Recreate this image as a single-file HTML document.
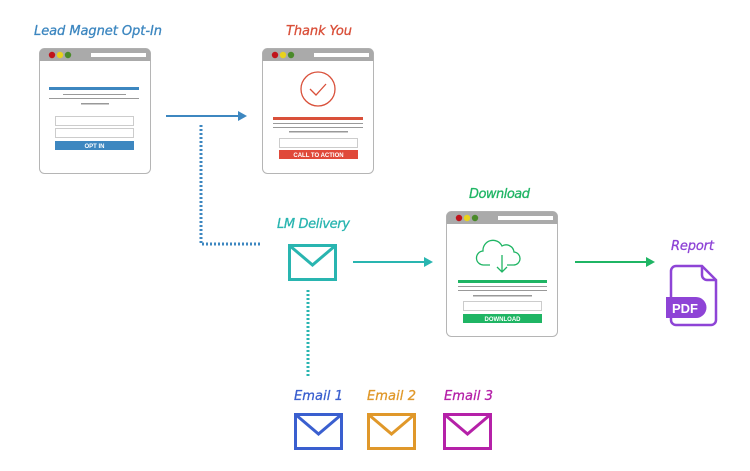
<!DOCTYPE html>
<html><head><style>
html,body{margin:0;padding:0;background:#fff;}
svg{display:block;}
text.h{font-family:"DejaVu Sans","Liberation Sans",sans-serif;font-style:italic;font-size:13px;}
text.b{font-family:"Liberation Sans",sans-serif;font-weight:bold;font-size:6px;fill:#fff;}
</style></head><body>
<svg width="750" height="471" viewBox="0 0 750 471" xmlns="http://www.w3.org/2000/svg">
<defs>
<g id="win">
<rect x="0.5" y="0.5" width="111" height="125" rx="5" fill="#fff" stroke="#b5b5b5"/>
<path d="M0.5 13 V5.5 a5 5 0 0 1 5 -5 H106.5 a5 5 0 0 1 5 5 V13 Z" fill="#aaa"/>
<circle cx="13" cy="7" r="3.2" fill="#c0141c"/>
<circle cx="21" cy="7" r="3.2" fill="#e8d21d"/>
<circle cx="29" cy="7" r="3.2" fill="#4a8a2a"/>
<rect x="52" y="5" width="55" height="4" fill="#fff"/>
</g>
<g id="env" fill="none" stroke-width="3">
<rect x="1.5" y="1.5" width="46" height="34"/>
<path d="M1.5 1.5 L24.5 21 L47.5 1.5"/>
</g>
</defs>

<!-- labels -->
<text class="h" x="34" y="35" fill="#3d87c0" stroke="#3d87c0" stroke-width="0.3" textLength="128">Lead Magnet Opt-In</text>
<text class="h" x="286" y="35" fill="#d9503a" stroke="#d9503a" stroke-width="0.3" textLength="66">Thank You</text>
<text class="h" x="469" y="198" fill="#1fb564" stroke="#1fb564" stroke-width="0.3" textLength="61">Download</text>
<text class="h" x="277" y="228" fill="#29b5b0" stroke="#29b5b0" stroke-width="0.3" textLength="73">LM Delivery</text>
<text class="h" x="671" y="250" fill="#8e44d6" stroke="#8e44d6" stroke-width="0.3" textLength="43">Report</text>
<text class="h" x="294" y="400" fill="#3a5fcf" stroke="#3a5fcf" stroke-width="0.3" textLength="49">Email 1</text>
<text class="h" x="367" y="400" fill="#e0982a" stroke="#e0982a" stroke-width="0.3" textLength="49">Email 2</text>
<text class="h" x="444" y="400" fill="#b521a8" stroke="#b521a8" stroke-width="0.3" textLength="49">Email 3</text>

<!-- window 1 -->
<g transform="translate(39,48)"><use href="#win"/></g>
<rect x="49" y="87" width="90" height="3" fill="#3d87c0"/>
<rect x="63" y="94" width="63" height="1" fill="#999"/>
<rect x="49" y="98" width="90" height="1" fill="#999"/>
<rect x="81" y="103" width="28" height="1.5" fill="#999"/>
<rect x="55.5" y="116.5" width="78" height="9" fill="#fff" stroke="#ccc"/>
<rect x="55.5" y="128.5" width="78" height="9" fill="#fff" stroke="#ccc"/>
<rect x="55" y="141" width="79" height="9" fill="#3d87c0"/>
<text class="b" x="94.5" y="148" text-anchor="middle">OPT IN</text>

<!-- window 2 -->
<g transform="translate(262,48)"><use href="#win"/></g>
<circle cx="318" cy="89" r="17" fill="none" stroke="#d9503a" stroke-width="1.3"/>
<path d="M310 89 l6 6 l10 -11" fill="none" stroke="#d9503a" stroke-width="1.3"/>
<rect x="273" y="117" width="90" height="3" fill="#d9503a"/>
<rect x="273" y="123" width="90" height="1" fill="#999"/>
<rect x="273" y="127" width="90" height="1" fill="#999"/>
<rect x="289" y="131" width="59" height="1.5" fill="#999"/>
<rect x="279.5" y="138.5" width="78" height="9" fill="#fff" stroke="#ccc"/>
<rect x="279" y="150" width="79" height="9" fill="#e0493a"/>
<text class="b" x="318.5" y="157" text-anchor="middle">CALL TO ACTION</text>

<!-- window 3 -->
<g transform="translate(446,211)"><use href="#win"/></g>
<path d="M490 265 h-6 a7 7 0 0 1 -1 -14 a10 10 0 0 1 19 -5 a8 8 0 0 1 12 6 a6 6 0 0 1 -1 13 h-6" fill="none" stroke="#1fb564" stroke-width="1.3"/>
<path d="M502 255 v17 M497 267 l5 5 l5 -5" fill="none" stroke="#1fb564" stroke-width="1.3"/>
<rect x="458" y="280" width="89" height="3" fill="#1fb564"/>
<rect x="458" y="286" width="89" height="1" fill="#999"/>
<rect x="458" y="290" width="89" height="1" fill="#999"/>
<rect x="473" y="295" width="59" height="1.5" fill="#999"/>
<rect x="463.5" y="301.5" width="78" height="9" fill="#fff" stroke="#ccc"/>
<rect x="463" y="314" width="79" height="9" fill="#1fb564"/>
<text class="b" x="502.5" y="321" text-anchor="middle">DOWNLOAD</text>

<!-- arrows -->
<line x1="166" y1="116" x2="240" y2="116" stroke="#3d87c0" stroke-width="2"/>
<path d="M238 111 L247 116 L238 121 Z" fill="#3d87c0"/>
<line x1="353" y1="262" x2="426" y2="262" stroke="#29b5b0" stroke-width="2"/>
<path d="M424 257 L433 262 L424 267 Z" fill="#29b5b0"/>
<line x1="575" y1="262" x2="648" y2="262" stroke="#1fb564" stroke-width="2"/>
<path d="M646 257 L655 262 L646 267 Z" fill="#1fb564"/>

<!-- dotted -->
<path d="M201 125 V244 H260" fill="none" stroke="#3d87c0" stroke-width="3" stroke-dasharray="2 2"/>
<path d="M308 290 V376" fill="none" stroke="#29b5b0" stroke-width="3" stroke-dasharray="2 2"/>

<!-- envelopes -->
<g transform="translate(288,244)" stroke="#29b5b0"><use href="#env"/></g>
<g transform="translate(294,413)" stroke="#3a5fcf"><use href="#env"/></g>
<g transform="translate(367,413)" stroke="#e0982a"><use href="#env"/></g>
<g transform="translate(443,413)" stroke="#b521a8"><use href="#env"/></g>

<!-- PDF -->
<path d="M676 266 H702 L716 280 V320 a5 5 0 0 1 -5 5 H676 a5 5 0 0 1 -5 -5 V271 a5 5 0 0 1 5 -5 Z" fill="#fff" stroke="#8e44d6" stroke-width="2.5"/>
<path d="M702 266 V275 a5 5 0 0 0 5 5 H716" fill="none" stroke="#8e44d6" stroke-width="2.5"/>
<path d="M666 297 H696 a10.5 10.5 0 0 1 0 21 H666 Z" fill="#8e44d6"/>
<text x="685" y="313" text-anchor="middle" font-family="Liberation Sans,sans-serif" font-weight="bold" font-size="13" fill="#fff">PDF</text>
</svg>
</body></html>
